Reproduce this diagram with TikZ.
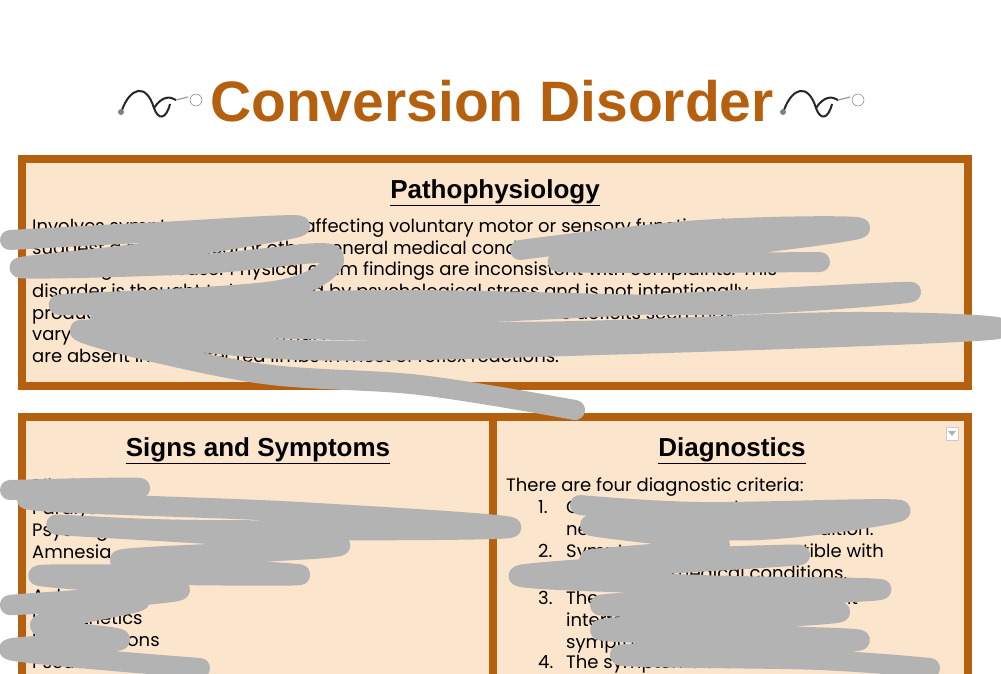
\documentclass[tikz,border=0pt]{standalone}
\usepackage{fontspec}
\setmainfont{Poppins}
\newfontfamily\headfont{Liberation Sans}
\definecolor{brn}{HTML}{B5600E}
\definecolor{pch}{HTML}{FBE5CD}
\definecolor{scr}{HTML}{B3B3B3}
\tikzset{txt/.style={anchor=base west,inner sep=0,font=\fontsize{18}{20}\selectfont},
 hd/.style={anchor=base,inner sep=0,font=\headfont\bfseries\fontsize{26}{28}\selectfont},
 scrib/.style={scr,line width=20pt,line cap=round,line join=round},
 steth/.style={line width=2pt,black!85}}
\begin{document}
\begin{tikzpicture}[x=1pt,y=-1pt]
\useasboundingbox (0,0) rectangle (1001,673);
\fill[white] (0,0) rectangle (1001,673);
% title
\node[anchor=base,inner sep=0,text=brn,font=\headfont\bfseries\fontsize{57}{62}\selectfont] (title) at (492,121) {Conversion Disorder};
\foreach \x in {116,778}{
 \draw[steth] (\x+6,110) .. controls (\x+14,88) and (\x+30,82) .. (\x+38,108) .. controls (\x+42,120) and (\x+50,120) .. (\x+54,104);
 \draw[steth] (\x+38,108) .. controls (\x+46,96) and (\x+54,96) .. (\x+60,100);
 \draw[black!40,line width=1.2pt] (\x+60,100) -- (\x+72,97);
 \draw[black!60,fill=white] (\x+80,100) circle (6);
 \fill[gray] (\x+5,112) circle (3);
}
% top box
\draw[brn,line width=8pt,fill=pch] (22,159) rectangle (968,386);
\node[hd] (ph) at (495,198) {\underline{Pathophysiology}};
\foreach \t [count=\i] in {
Involves symptoms or deficits affecting voluntary motor or sensory function that,
suggest a neurological or other general medical condition but without existing,
neurological disease. Physical exam findings are inconsistent with complaints. This,
disorder is thought to be caused by psychological stress and is not intentionally,
produced. Patients are not feigning their symptoms and the deficits seen may,
vary between episodes. Normal reflexes will be present on physical exam but,
are absent in the affected limbs in most of reflex reactions.}{
 \node[txt] at (32,{211+\i*21.6}) {\t};}
% bottom box
\draw[brn,line width=8pt,fill=pch] (22,417) rectangle (968,690);
\draw[brn,line width=8pt] (493,417) -- (493,690);
\node[hd] (ss) at (258,456) {\underline{Signs and Symptoms}};
\node[hd] (dg) at (732,456) {\underline{Diagnostics}};
\foreach \t [count=\i] in {Blindness,Paralysis,Psychogenic non-epileptic seizures,Amnesia,Dementia,Aphonia,Paresthetics,Hallucinations,Pseudoseizures}{
 \node[txt] at (32,{470+\i*22}) {\t};}
\node[txt] at (506,491) {There are four diagnostic criteria:};
\node[txt] at (538,513) {1.}; \node[txt] at (566,513) {One or more symptoms suggest a};
\node[txt] at (566,535) {neurological or medical condition.};
\node[txt] at (538,557) {2.}; \node[txt] at (566,557) {Symptoms are not compatible with};
\node[txt] at (566,579) {recognized medical conditions.};
\node[txt] at (538,604) {3.}; \node[txt] at (566,604) {The symptoms cause significant};
\node[txt] at (566,626) {interference with life or the};
\node[txt] at (566,648) {symptoms are distressing.};
\node[txt] at (538,668) {4.}; \node[txt] at (566,668) {The symptoms are not better};
\draw[black!20,fill=white] (946,427) rectangle (958,440);
\fill[black!30] (948,431) -- (956,431) -- (952,436) -- cycle;
% scribbles
\draw[scrib] plot[smooth,tension=0.6] coordinates {(10,240) (160,232) (300,226) (150,252) (20,268) (200,264) (330,254) (280,290) (60,305) (400,300) (720,305) (900,292) (400,316) (100,322) (500,332) (850,322) (990,330) (600,345) (300,350) (80,330) (250,372) (420,385) (575,410)};
\draw[scrib] plot[smooth,tension=0.6] coordinates {(520,250) (700,230) (860,228) (700,250) (560,262) (820,262)};
\draw[scrib] plot[smooth,tension=0.6] coordinates {(10,490) (140,488) (30,500) (300,512) (510,528) (200,530) (60,525) (340,545) (120,560) (300,575) (40,575) (180,590) (10,605) (140,600) (40,625) (120,640) (10,650) (200,668)};
\draw[scrib] plot[smooth,tension=0.6] coordinates {(580,505) (700,512) (900,510) (760,530) (590,525) (720,545) (590,560) (800,555) (520,575) (700,585) (880,590) (600,605) (840,612) (600,630) (860,640) (620,655) (820,660) (930,668)};
\end{tikzpicture}
\end{document}
